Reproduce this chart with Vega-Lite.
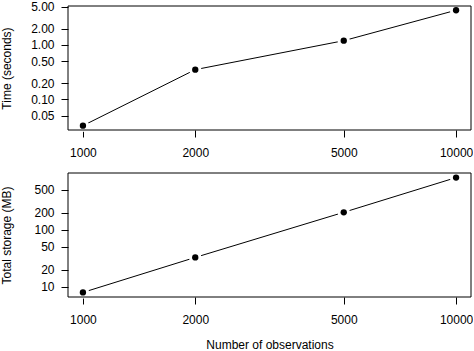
{
  "$schema": "https://vega.github.io/schema/vega-lite/v6.json",
  "padding": 0,
  "background": "white",
  "bounds": "flush",
  "spacing": 43,
  "config": {
    "font": "Liberation Sans",
    "view": {"stroke": null},
    "axis": {
      "labelFont": "Liberation Sans",
      "titleFont": "Liberation Sans",
      "labelFontSize": 12,
      "titleFontSize": 12,
      "titleFontWeight": "normal",
      "labelColor": "black",
      "titleColor": "black",
      "tickColor": "black",
      "tickWidth": 1,
      "tickSize": 7,
      "grid": false,
      "domain": false,
      "labelFlush": false,
      "labelOverlap": false,
      "labelBound": false
    }
  },
  "datasets": {
    "perf": [
      {"n": 1000, "time": 0.033, "storage": 8.0},
      {"n": 2000, "time": 0.353, "storage": 32.8},
      {"n": 5000, "time": 1.2, "storage": 202},
      {"n": 10000, "time": 4.35, "storage": 819}
    ]
  },
  "vconcat": [
    {
      "width": 403,
      "height": 124,
      "data": {"name": "perf"},
      "encoding": {
        "x": {
          "field": "n", "type": "quantitative",
          "scale": {"type": "log", "domain": [912, 10965], "nice": false, "zero": false},
          "axis": {"values": [1000, 2000, 5000, 10000], "format": "d", "title": null, "labelPadding": 10}
        },
        "y": {
          "field": "time", "type": "quantitative",
          "scale": {"type": "log", "domain": [0.0275, 5.2], "nice": false, "zero": false},
          "axis": {"values": [0.05, 0.1, 0.2, 0.5, 1, 2, 5], "format": ".2f", "title": "Time (seconds)", "labelPadding": 7, "titleX": -55}
        }
      },
      "layer": [
        {"mark": {"type": "line", "color": "black", "strokeWidth": 1}},
        {"mark": {"type": "point", "filled": true, "color": "white", "size": 155, "opacity": 1}},
        {"mark": {"type": "point", "filled": true, "color": "black", "size": 40, "opacity": 1}},
        {"data": {"values": [{}]}, "mark": {"type": "rect", "filled": false, "stroke": "black", "strokeWidth": 1}, "encoding": {"x": null, "y": null}}
      ]
    },
    {
      "width": 403,
      "height": 124,
      "data": {"name": "perf"},
      "encoding": {
        "x": {
          "field": "n", "type": "quantitative",
          "scale": {"type": "log", "domain": [912, 10965], "nice": false, "zero": false},
          "axis": {"values": [1000, 2000, 5000, 10000], "format": "d", "title": "Number of observations", "labelPadding": 10, "titlePadding": 14}
        },
        "y": {
          "field": "storage", "type": "quantitative",
          "scale": {"type": "log", "domain": [6.65, 985], "nice": false, "zero": false},
          "axis": {"values": [10, 20, 50, 100, 200, 500], "format": "d", "title": "Total storage (MB)", "labelPadding": 7, "titleX": -55}
        }
      },
      "layer": [
        {"mark": {"type": "line", "color": "black", "strokeWidth": 1}},
        {"mark": {"type": "point", "filled": true, "color": "white", "size": 155, "opacity": 1}},
        {"mark": {"type": "point", "filled": true, "color": "black", "size": 40, "opacity": 1}},
        {"data": {"values": [{}]}, "mark": {"type": "rect", "filled": false, "stroke": "black", "strokeWidth": 1}, "encoding": {"x": null, "y": null}}
      ]
    }
  ]
}
